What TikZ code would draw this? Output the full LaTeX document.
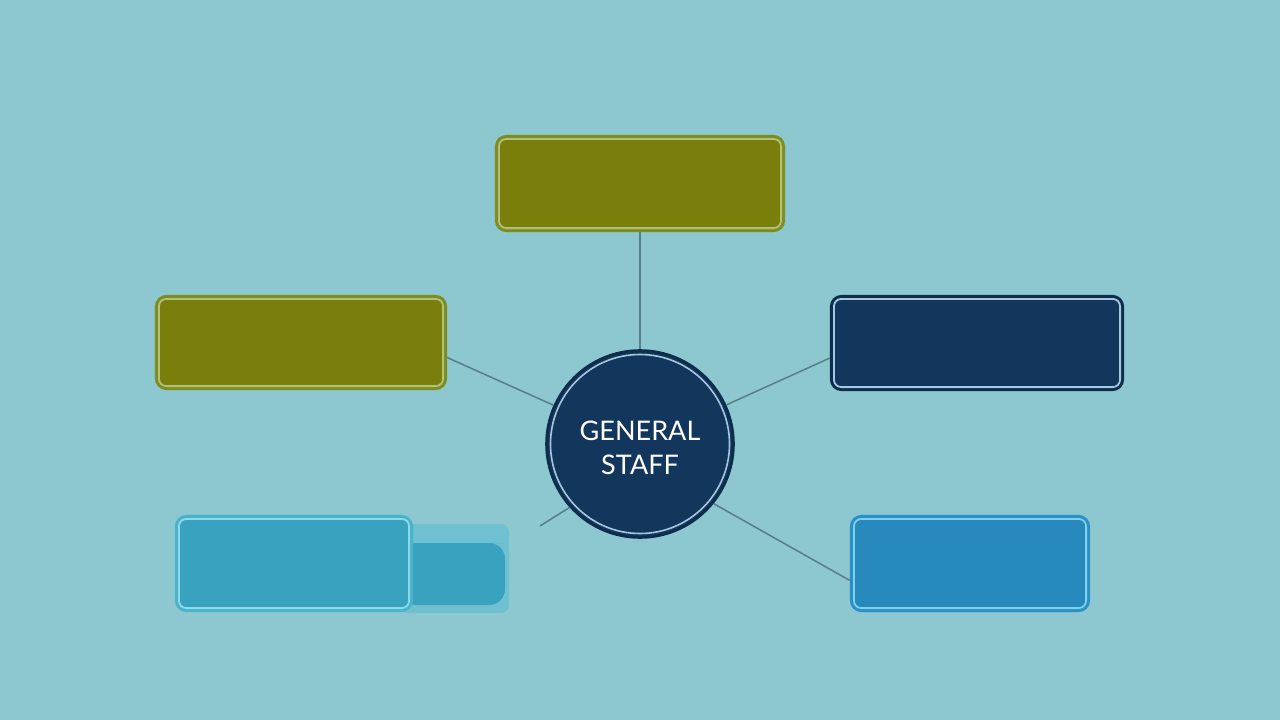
\documentclass[tikz,border=0pt]{standalone}
\usepackage{fontspec}
\setmainfont{Lato}
\definecolor{bg}{HTML}{8DC8D0}
\definecolor{olivefill}{HTML}{7A7F0B}
\definecolor{oliveedge}{HTML}{7F8C20}
\definecolor{olivelight}{HTML}{B0C27A}
\definecolor{navyfill}{HTML}{13365D}
\definecolor{navyedge}{HTML}{0E2D4C}
\definecolor{navylight}{HTML}{A6C8DC}
\definecolor{bluefill}{HTML}{2789BC}
\definecolor{blueedge}{HTML}{2D90C5}
\definecolor{bluelight}{HTML}{7CD0F0}
\definecolor{cyanfill}{HTML}{39A2BF}
\definecolor{cyanedge}{HTML}{4AB2CB}
\definecolor{cyanlight}{HTML}{8CDAE8}
\definecolor{glow}{HTML}{6FC0D0}
\definecolor{link}{HTML}{567F88}
\tikzset{
  boxbase/.style={rectangle, rounded corners=10pt, line width=3.2pt},
  olivebox/.style={boxbase, fill=olivefill, draw=oliveedge},
  navybox/.style={boxbase, fill=navyfill, draw=navyedge},
  bluebox/.style={boxbase, fill=bluefill, draw=blueedge},
  cyanbox/.style={boxbase, fill=cyanfill, draw=cyanedge},
  insetline/.style={line width=1.8pt, rounded corners=7.5pt},
  linkline/.style={draw=link, line width=1.5pt},
  hub/.style={circle, minimum size=187pt, fill=navyfill, draw=navyedge, line width=2.6pt, inner sep=0pt},
  hubtext/.style={text=white, align=center, font=\fontsize{27}{34}\selectfont}
}
\newcommand\insetbox[2]{\draw[insetline, #2] ([xshift=4pt,yshift=-4pt]#1.north west) rectangle ([xshift=-4pt,yshift=4pt]#1.south east);}
\begin{document}
\begin{tikzpicture}[x=1pt,y=-1pt]
\useasboundingbox (0,0) rectangle (1280,720);
\fill[bg] (0,0) rectangle (1280,720);
% glow and tab behind the bottom-left box
\fill[glow, rounded corners=8pt] (400,524) rectangle (509,613);
\fill[cyanfill, rounded corners=16pt] (400,543) -- (488,543) -- (505,543) -- (505,605) -- (400,605) -- cycle;
% boxes
\node[olivebox, minimum width=287pt, minimum height=94pt] (top) at (640,183.5) {};
\node[olivebox, minimum width=289pt, minimum height=92pt] (lb) at (301,342.5) {};
\node[navybox, minimum width=291pt, minimum height=93pt] (rb) at (977,343) {};
\node[bluebox, minimum width=237pt, minimum height=94pt] (br) at (970,563.5) {};
\node[cyanbox, minimum width=235pt, minimum height=94pt] (bl) at (294,563.5) {};
\insetbox{top}{olivelight}
\insetbox{lb}{olivelight}
\insetbox{rb}{navylight}
\insetbox{br}{bluelight}
\insetbox{bl}{cyanlight}
% hub
\node[hub] (c) at (640,444) {};
\draw[navylight, line width=1.6pt] (c.center) circle (89.5pt);
\node[hubtext] (t) at (640,448) {GENERAL\\STAFF};
% connectors
\coordinate (stub) at (540,526);
\draw[linkline] (top.south) -- (c.north);
\draw[linkline] ([yshift=-15pt]lb.east) -- (c);
\draw[linkline] ([yshift=-15pt]rb.west) -- (c);
\draw[linkline] ([yshift=-17pt]br.west) -- (c.-39);
\draw[linkline] (stub) -- (c.222);
\end{tikzpicture}
\end{document}
